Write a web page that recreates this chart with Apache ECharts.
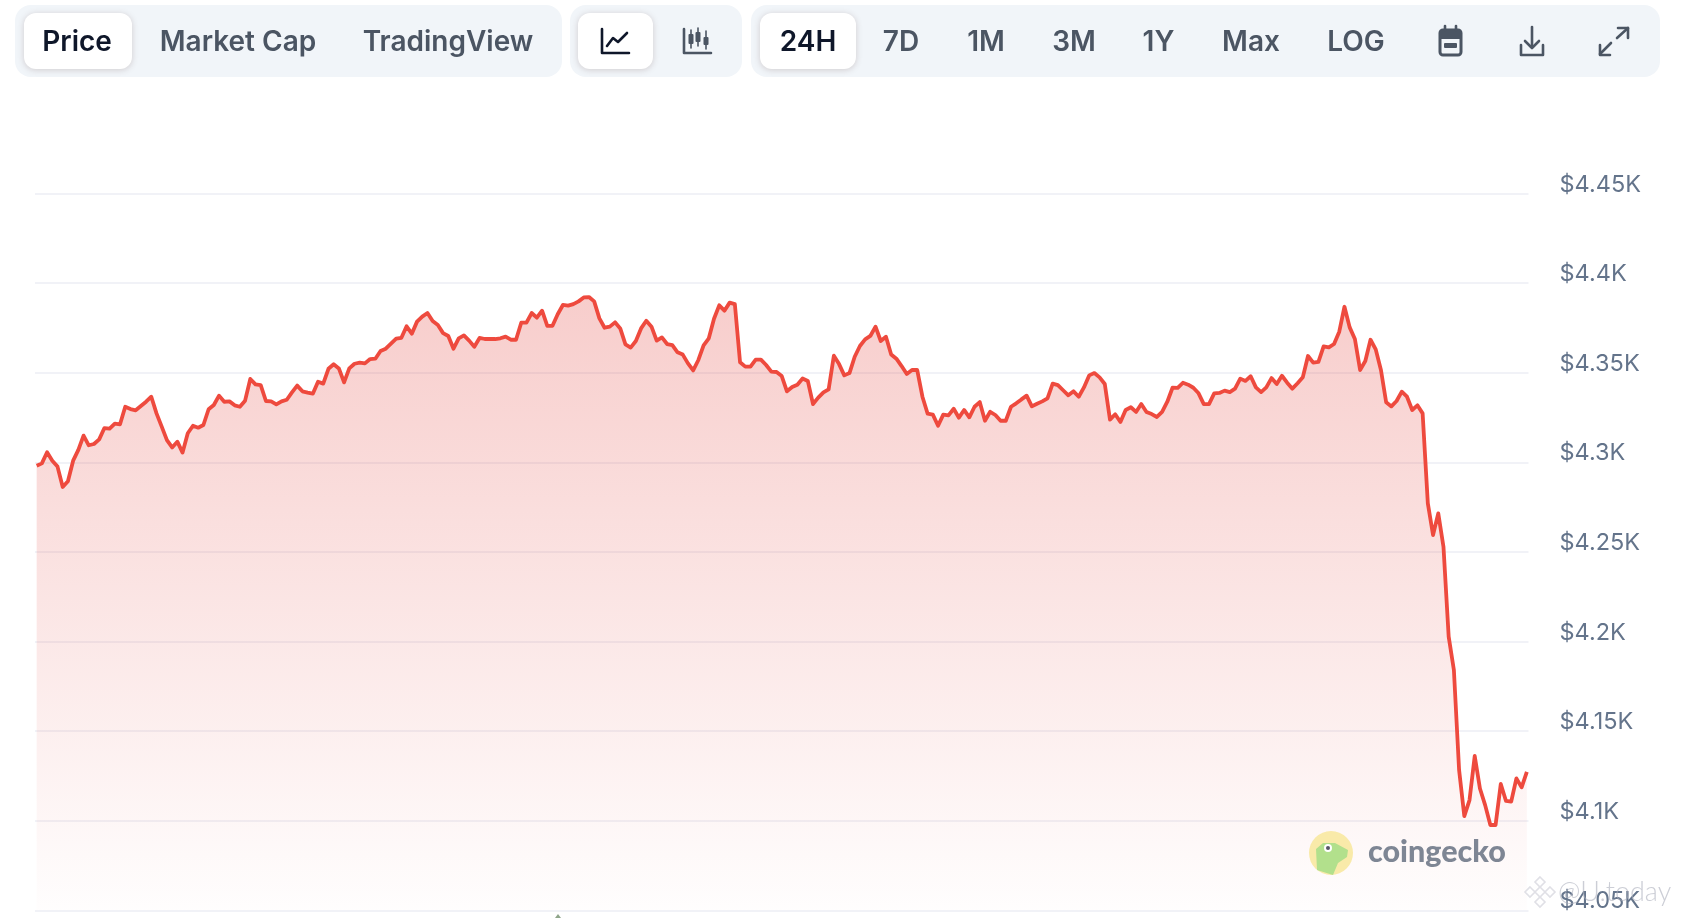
<!DOCTYPE html>
<html>
<head>
<meta charset="utf-8">
<title>ETH price 24H</title>
<script src="https://cdn.jsdelivr.net/npm/echarts@6/dist/echarts.min.js"></script>
<style>
html,body{margin:0;padding:0;background:#fff;}
#main{width:1682px;height:918px;}
</style>
</head>
<body>
<div id="main"></div>
<script>
// price in USD, one reading every 5 minutes over the last 24 hours
var stepMinutes = 5;
var prices = [
4298.1,4299.4,4305.6,4300.9,4297.6,4286.2,4289.4,4300.9,4306.9,4314.9,
4309.5,4310.2,4312.8,4319.1,4318.8,4321.6,4321.2,4331.0,4329.7,4329.0,
4331.4,4333.8,4336.6,4327.3,4319.9,4312.4,4308.3,4311.5,4305.4,4316.2,
4320.4,4319.3,4320.8,4329.6,4332.0,4337.2,4333.8,4334.0,4331.8,4331.0,
4334.4,4346.5,4343.5,4343.1,4334.2,4334.0,4332.3,4334.0,4334.9,4339.0,
4342.8,4339.6,4338.9,4338.3,4345.0,4343.9,4352.2,4354.7,4352.4,4344.6,
4352.4,4355.0,4355.6,4355.2,4357.6,4357.8,4362.1,4363.4,4366.2,4369.0,
4369.5,4375.9,4371.8,4378.5,4381.3,4383.3,4378.8,4376.6,4372.1,4370.5,
4363.4,4369.2,4370.8,4367.9,4364.5,4369.4,4368.8,4368.8,4368.8,4369.2,
4370.1,4368.4,4368.4,4377.9,4377.9,4383.3,4380.7,4384.6,4376.1,4376.2,
4382.6,4387.8,4387.4,4388.3,4389.8,4392.0,4392.2,4389.8,4380.3,4375.1,
4375.7,4378.1,4374.7,4365.8,4364.0,4367.7,4374.7,4379.0,4375.7,4367.9,
4369.7,4366.0,4365.4,4361.4,4360.1,4355.2,4351.3,4357.1,4365.3,4369.2,
4380.1,4387.6,4384.6,4389.1,4388.3,4355.8,4353.4,4353.4,4357.3,4357.3,
4354.3,4350.6,4350.4,4348.1,4339.6,4342.0,4343.3,4346.8,4345.4,4332.5,
4336.1,4339.0,4340.7,4359.5,4354.8,4348.5,4349.8,4358.9,4364.9,4368.6,
4370.5,4375.7,4367.7,4370.1,4360.2,4357.8,4353.7,4349.3,4351.5,4351.5,
4336.6,4327.1,4326.6,4320.4,4326.6,4326.2,4329.9,4324.9,4329.2,4325.1,
4331.0,4333.6,4323.2,4328.2,4326.4,4323.2,4323.2,4331.0,4332.9,4335.1,
4337.2,4331.2,4332.7,4334.0,4335.7,4343.9,4343.1,4340.2,4337.4,4339.6,
4336.6,4341.8,4348.5,4349.8,4347.4,4343.7,4323.8,4326.8,4322.5,4329.2,
4330.7,4328.1,4332.5,4328.1,4326.9,4325.3,4328.1,4333.8,4341.6,4341.5,
4344.4,4343.3,4341.6,4338.5,4332.5,4332.5,4338.5,4338.7,4340.0,4339.2,
4341.1,4346.7,4345.4,4348.0,4341.8,4339.2,4341.8,4347.0,4343.7,4348.3,
4344.4,4341.1,4344.1,4347.4,4359.3,4355.6,4356.0,4364.7,4364.1,4366.0,
4372.9,4386.8,4375.3,4368.8,4351.5,4356.5,4368.4,4363.0,4351.5,4333.5,
4331.2,4334.2,4339.4,4336.6,4329.2,4331.8,4327.3,4277.1,4259.4,4271.5,
4252.9,4202.7,4184.1,4128.3,4102.6,4111.5,4136.1,4118.0,4108.7,4097.6,
4097.6,4120.5,4111.0,4110.6,4123.6,4118.6,4127.3
];
var yMin = 4050;
var yMax = 4450;
var yStep = 50;

var tabLabels = ['Price','Market Cap','TradingView'];
var tabCenters = [77,238,448];
var rangeLabels = ['24H','7D','1M','3M','1Y','Max','LOG'];
var rangeCenters = [808,901,986,1074,1158.5,1251,1356];

var textFont = 'Inter, "Noto Sans", sans-serif';
var activeColor = '#0f172a';
var idleColor = '#4b5563';
var barY = 42.5;

function panel(x,w){
	return {type:'rect',shape:{x:x,y:5,width:w,height:72,r:16},style:{fill:'#f1f5f9'}};
}
function pill(x,w){
	return {type:'rect',z:2,shape:{x:x,y:13,width:w,height:56,r:12},
		style:{fill:'#fff',shadowBlur:6,shadowColor:'rgba(90,60,60,0.22)',shadowOffsetY:1}};
}
function barText(txt,cx,color){
	return {type:'text',z:3,x:cx,y:barY,
		style:{text:txt,font:'600 28px '+textFont,fill:color,align:'center',verticalAlign:'middle'}};
}
function icon(points,color,w){
	return {type:'polyline',z:3,shape:{points:points},
		style:{stroke:color,lineWidth:w||2.6,fill:null,lineCap:'round',lineJoin:'round'}};
}
function box(x,y,w,h,color){
	return {type:'rect',z:3,shape:{x:x,y:y,width:w,height:h,r:1},style:{fill:color}};
}
function diamond(cx,cy,r){
	return {type:'polygon',z:20,shape:{points:[[cx,cy-r],[cx+r,cy],[cx,cy+r],[cx-r,cy]]},
		style:{fill:'rgba(255,255,255,0.5)',stroke:'#e0e0e6',lineWidth:1.6}};
}

// toolbar across the top, drawn as graphic elements
function toolbar(){
	var g = [panel(15,547),panel(570,172),panel(751,909),pill(24,108),pill(578,75),pill(760,96)];
	tabLabels.forEach(function(t,i){
		g.push(barText(t,tabCenters[i],i==0?activeColor:idleColor));
	});
	rangeLabels.forEach(function(t,i){
		g.push(barText(t,rangeCenters[i],i==0?activeColor:idleColor));
	});
	// line chart icon
	g.push(icon([[602,29],[602,53],[629,53]],activeColor));
	g.push(icon([[607,46],[613,38],[618,42],[627,33]],activeColor));
	// candle icon
	g.push(icon([[684,29],[684,53],[711,53]],idleColor));
	g.push(icon([[691,30],[691,48]],idleColor,1.6));
	g.push(box(688.5,34,5,10,idleColor));
	g.push(icon([[698,28],[698,46]],idleColor,1.6));
	g.push(box(695.5,32,5,10,idleColor));
	g.push(icon([[706,31],[706,49]],idleColor,1.6));
	g.push(box(703.5,37,5,8,idleColor));
	// calendar
	g.push({type:'rect',z:3,shape:{x:1440,y:30,width:21,height:25,r:3},style:{fill:'#f1f5f9',stroke:idleColor,lineWidth:3}});
	g.push(box(1440,30,21,9,idleColor));
	g.push(box(1444,43,13,5,idleColor));
	g.push(icon([[1445,26],[1445,30]],idleColor));
	g.push(icon([[1456,26],[1456,30]],idleColor));
	// download
	g.push(icon([[1532,27],[1532,47]],idleColor));
	g.push(icon([[1525,41],[1532,48],[1539,41]],idleColor));
	g.push(icon([[1521,45],[1521,55],[1543,55],[1543,45]],idleColor));
	// expand
	g.push(icon([[1600,54],[1611,43]],idleColor));
	g.push(icon([[1600,45],[1600,55],[1610,55]],idleColor));
	g.push(icon([[1617,38],[1628,28]],idleColor));
	g.push(icon([[1618,28],[1628,28],[1628,38]],idleColor));
	return g;
}

// coingecko mark bottom right
function geckoMark(){
	return [
		{type:'circle',z:10,shape:{cx:1331,cy:853,r:22},style:{fill:'#f9eaa9'}},
		{type:'polygon',z:10,shape:{points:[[1317,870],[1316,849],[1323,843],[1335,843],[1348,850],[1347,857],[1338,863],[1333,875]]},
			style:{fill:'#b2e08c'}},
		{type:'circle',z:10,shape:{cx:1328,cy:848,r:4},style:{fill:'#fff'}},
		{type:'circle',z:10,shape:{cx:1328,cy:848,r:2},style:{fill:'#556'}},
		{type:'text',z:10,x:1368,y:852,
			style:{text:'coingecko',font:'900 30.5px Lato, "Open Sans", sans-serif',fill:'#7e8694',align:'left',verticalAlign:'middle'}}
	];
}

// faint u.today watermark over the last tick label
function watermark(){
	return [
		diamond(1540,882,5),diamond(1540,902,5),diamond(1530,892,5),diamond(1550,892,5),diamond(1540,892,5),
		{type:'text',z:20,x:1558,y:892,
			style:{text:'@U.today',font:'300 27px Lato, sans-serif',fill:'rgba(170,173,186,0.6)',align:'left',verticalAlign:'middle'}},
		// cropped tick peeking in at the bottom edge
		{type:'polygon',z:5,shape:{points:[[558,914],[555,918],[561,918]]},style:{fill:'#8fa58a'}}
	];
}

var lineData = prices.map(function(p,i){ return [i*stepMinutes,p]; });

var chart = echarts.init(document.getElementById('main'),null,{renderer:'canvas'});
var option = {
	animation:false,
	backgroundColor:'#fff',
	grid:{left:35,right:153.5,top:193.5,bottom:7.7,outerBoundsMode:'none'},
	xAxis:{
		type:'value',
		min:-1.6,
		max:1431.6,
		show:false
	},
	yAxis:{
		type:'value',
		position:'right',
		min:yMin,
		max:yMax,
		interval:yStep,
		axisLine:{show:false},
		axisTick:{show:false},
		axisLabel:{
			margin:31,
			color:'#64748b',
			fontSize:23.5,
			fontFamily:textFont,
			verticalAlign:'bottom',
			lineHeight:18,
			formatter:function(v){ return '$'+(v/1000)+'K'; }
		},
		splitLine:{show:true,lineStyle:{color:'#eceef4',width:1.5}}
	},
	series:[{
		type:'line',
		data:lineData,
		showSymbol:false,
		smooth:false,
		lineStyle:{color:'#ee4a3e',width:3.8,join:'round'},
		areaStyle:{
			origin:'start',
			color:new echarts.graphic.LinearGradient(0,0,0,1,[
				{offset:0,color:'rgba(226,62,56,0.37)'},
				{offset:1,color:'rgba(226,62,56,0.01)'}
			])
		}
	}],
	graphic:{elements:toolbar().concat(geckoMark()).concat(watermark())}
};
chart.setOption(option);
window.onresize = chart.resize;
</script>
</body>
</html>
